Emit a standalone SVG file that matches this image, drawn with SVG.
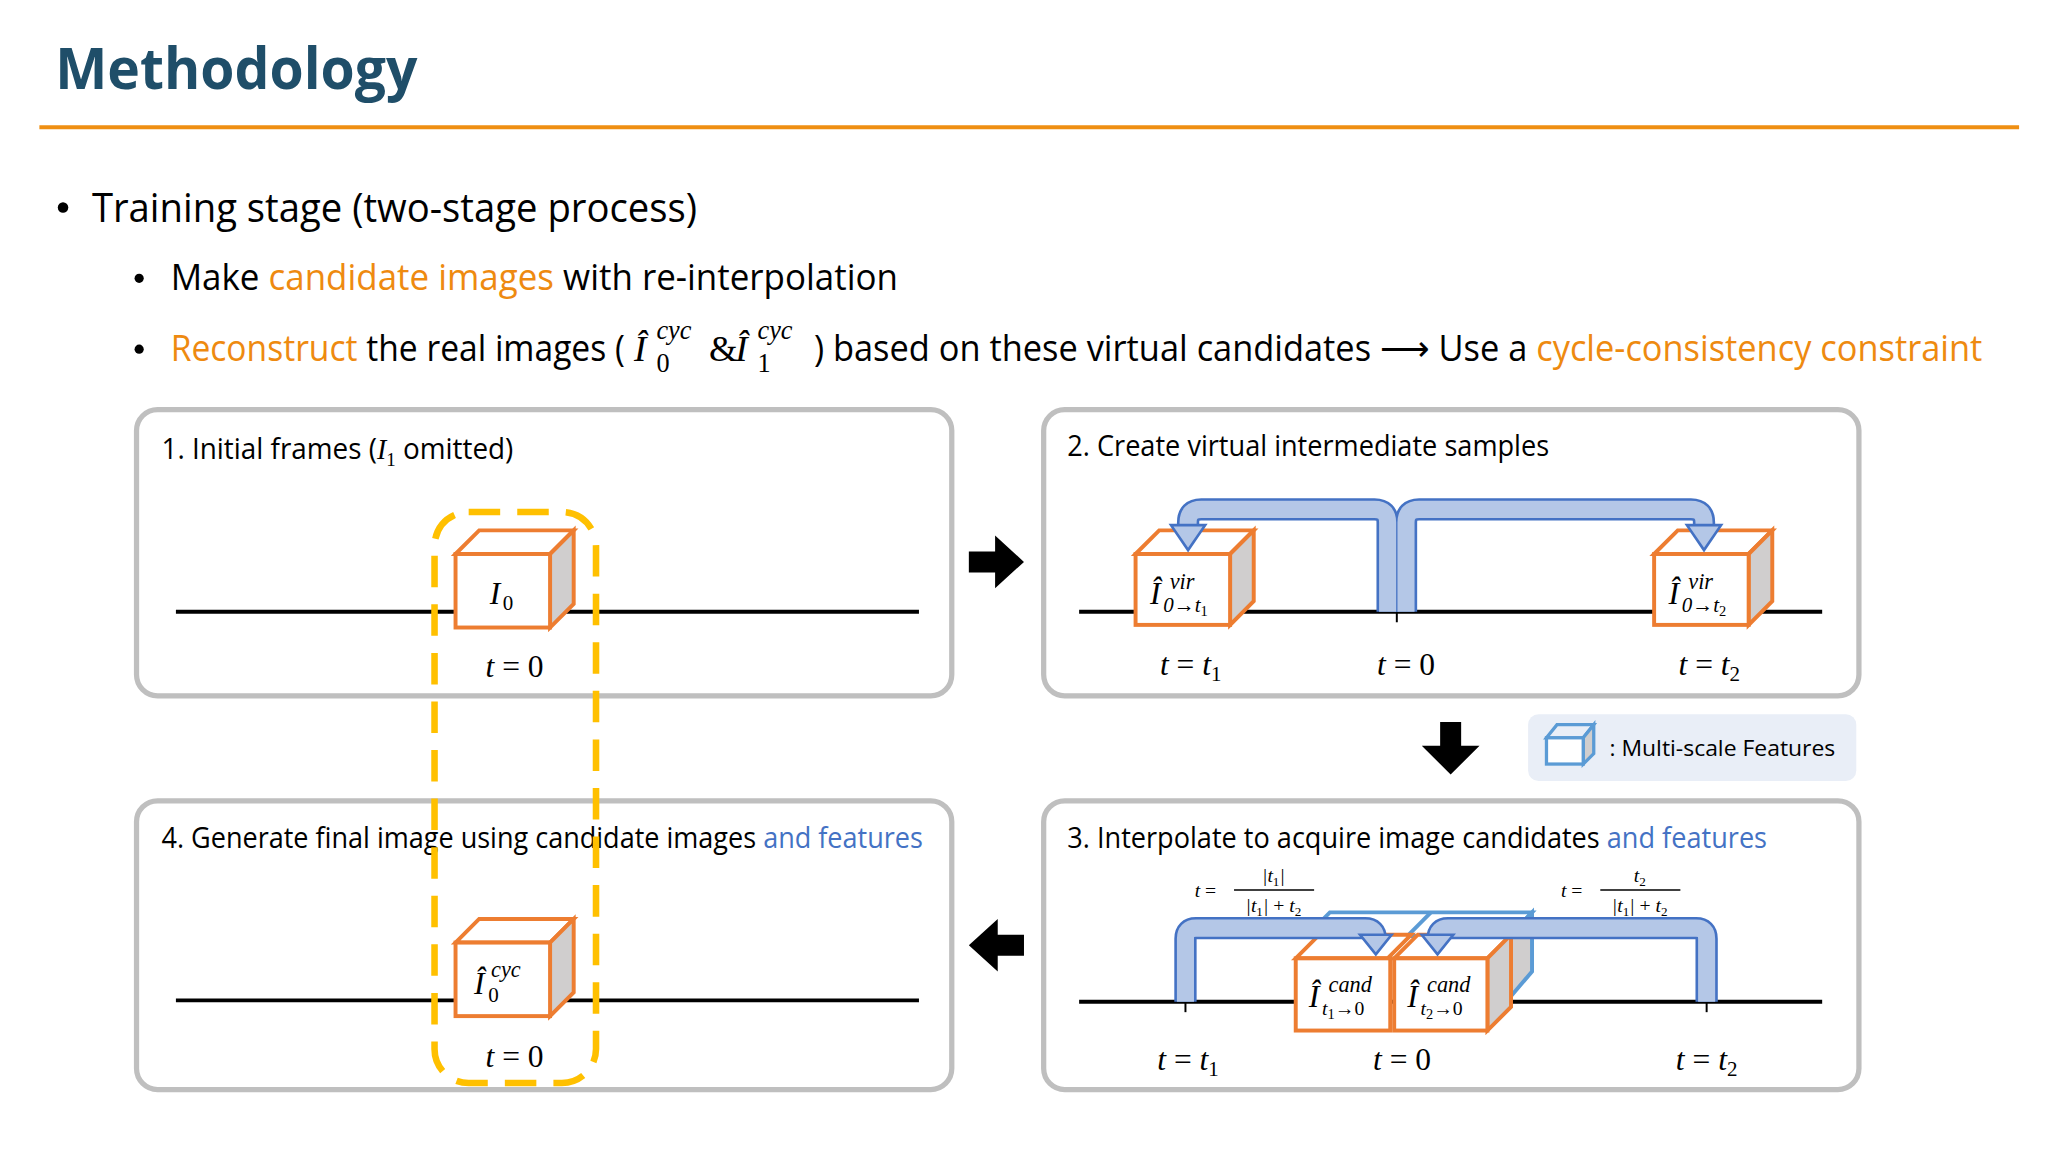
<svg xmlns="http://www.w3.org/2000/svg" width="2048" height="1152" viewBox="0 0 2048 1152">
<defs>
<style>
.t{font-family:"Open Sans","Noto Sans",sans-serif;fill:#000}
.m{font-family:"Liberation Serif",serif;font-style:italic;fill:#000}
.o{fill:#ee8a10}
.b{fill:#4472c4}
.panel{fill:#fff;stroke:#bfbfbf;stroke-width:4}
.front{fill:#fff;stroke:#ed7d31;stroke-width:3}
.side{fill:#d0cece;stroke:#ed7d31;stroke-width:3}
.topf{fill:#fff;stroke:#ed7d31;stroke-width:3}
.ao{fill:none;stroke:#4472c4;stroke-width:17}
.ai{fill:none;stroke:#b4c7e7;stroke-width:13}
.ah{fill:#b4c7e7;stroke:#4472c4;stroke-width:2}
.ax{stroke:#000;stroke-width:3}
</style>
</defs>
<rect width="2048" height="1152" fill="#fff"/>
<g transform="scale(1.3128)">
<g id="header">
<text x="42" y="68" class="t" font-size="44" font-weight="bold" fill="#1f4e69" style="fill:#1f4e69" textLength="276" lengthAdjust="spacingAndGlyphs">Methodology</text>
<line x1="30" y1="97" x2="1538" y2="97" stroke="#ef8f12" stroke-width="3"/>
<circle cx="48" cy="158" r="4"/>
<text x="70" y="169" class="t" font-size="30" textLength="461" lengthAdjust="spacingAndGlyphs">Training stage (two-stage process)</text>
<circle cx="106" cy="212" r="3.5"/>
<text x="130" y="221" class="t" font-size="28" textLength="554" lengthAdjust="spacingAndGlyphs">Make <tspan class="o">candidate images</tspan> with re-interpolation</text>
<circle cx="106" cy="266" r="3.5"/>
<text x="130" y="275" class="t" font-size="28" textLength="346" lengthAdjust="spacingAndGlyphs"><tspan class="o">Reconstruct</tspan> the real images (</text>
<text x="483" y="275" class="m" font-size="28">Î</text>
<text x="500" y="283" class="m" font-size="20" style="font-style:normal">0</text>
<text x="500" y="258" class="m" font-size="20">cyc</text>
<text x="540" y="275" class="m" font-size="28" style="font-style:normal">&amp;</text>
<text x="560" y="275" class="m" font-size="28">Î</text>
<text x="577" y="283" class="m" font-size="20" style="font-style:normal">1</text>
<text x="577" y="258" class="m" font-size="20">cyc</text>
<text x="620" y="275" class="t" font-size="28" textLength="890" lengthAdjust="spacingAndGlyphs">) based on these virtual candidates ⟶ Use a <tspan class="o">cycle-consistency constraint</tspan></text>
</g>
<g id="connectors">
<polygon points="738,420 758,420 758,408 780,428 758,448 758,436 738,436" fill="#000"/>
<polygon points="1097,550 1113,550 1113,568 1127,568 1105,590 1083,568 1097,568" fill="#000"/>
<polygon points="780,712 760,712 760,700 738,720 760,740 760,728 780,728" fill="#000"/>
</g>
<g id="panel1">
<rect x="104" y="312" width="621" height="218" rx="16" class="panel"/>
<text x="123" y="350" class="t" font-size="22" textLength="268" lengthAdjust="spacingAndGlyphs">1. Initial frames (<tspan class="m">I</tspan><tspan class="m" font-size="15" dy="5" style="font-style:normal">1</tspan><tspan dy="-5"> omitted)</tspan></text>
<line x1="134" y1="466" x2="700" y2="466" class="ax"/>
<polygon points="347,422 365,404 437,404 419,422" class="topf"/>
<polygon points="419,422 437,404 437,460 419,478" class="side"/>
<rect x="347" y="422" width="72" height="56" class="front"/>
<text x="373" y="460" class="m" font-size="24">I</text><text x="383" y="465" class="m" font-size="16" style="font-style:normal">0</text>
<text x="392" y="516" class="m" font-size="24" text-anchor="middle">t <tspan style="font-style:normal">= 0</tspan></text>
</g>
<g id="panel2">
<rect x="795" y="312" width="621" height="218" rx="16" class="panel"/>
<text x="813" y="347" class="t" font-size="22" textLength="367" lengthAdjust="spacingAndGlyphs">2. Create virtual intermediate samples</text>
<line x1="822" y1="466" x2="1388" y2="466" class="ax"/>
<line x1="1064" y1="466" x2="1064" y2="474" stroke="#000" stroke-width="1.5"/>
<polygon points="865,422 883,404 955,404 937,422" class="topf"/>
<polygon points="937,422 955,404 955,458 937,476" class="side"/>
<rect x="865" y="422" width="72" height="54" class="front"/>
<text x="876" y="460" class="m" font-size="24">Î</text><text x="891" y="449" class="m" font-size="17">vir</text><text x="886" y="466" class="m" font-size="16">0→t<tspan font-size="11" dy="3" style="font-style:normal">1</tspan></text>
<polygon points="1260,422 1278,404 1350,404 1332,422" class="topf"/>
<polygon points="1332,422 1350,404 1350,458 1332,476" class="side"/>
<rect x="1260" y="422" width="72" height="54" class="front"/>
<text x="1271" y="460" class="m" font-size="24">Î</text><text x="1286" y="449" class="m" font-size="17">vir</text><text x="1281" y="466" class="m" font-size="16">0→t<tspan font-size="11" dy="3" style="font-style:normal">2</tspan></text>
<path d="M1057,466 V398 Q1057,388 1047,388 H915 Q905,388 905,398 V402" class="ao"/>
<path d="M1071,466 V398 Q1071,388 1081,388 H1288 Q1298,388 1298,398 V402" class="ao"/>
<path d="M1057,466 V398 Q1057,388 1047,388 H915 Q905,388 905,398 V404" class="ai"/>
<path d="M1071,466 V398 Q1071,388 1081,388 H1288 Q1298,388 1298,398 V404" class="ai"/>
<polygon points="892,400 918,400 905,419" class="ah"/>
<polygon points="1285,400 1311,400 1298,419" class="ah"/>
<text x="907" y="514" class="m" font-size="24" text-anchor="middle">t <tspan style="font-style:normal">=</tspan> t<tspan font-size="16" dy="5" style="font-style:normal">1</tspan></text>
<text x="1071" y="514" class="m" font-size="24" text-anchor="middle">t <tspan style="font-style:normal">= 0</tspan></text>
<text x="1302" y="514" class="m" font-size="24" text-anchor="middle">t <tspan style="font-style:normal">=</tspan> t<tspan font-size="16" dy="5" style="font-style:normal">2</tspan></text>
</g>
<g id="legend">
<rect x="1164" y="544" width="250" height="51" rx="8" fill="#e9eef7"/>
<polygon points="1178,562 1186,552 1214,552 1206,562" fill="none" stroke="#5b9bd5" stroke-width="2.5"/>
<polygon points="1206,562 1214,552 1214,574 1206,582" fill="#d0cece" stroke="#5b9bd5" stroke-width="2.5"/>
<rect x="1178" y="562" width="28" height="20" fill="#fff" stroke="#5b9bd5" stroke-width="2.5"/>
<text x="1226" y="576" class="t" font-size="17" textLength="172" lengthAdjust="spacingAndGlyphs">: Multi-scale Features</text>
</g>
<g id="panel3">
<rect x="795" y="610" width="621" height="220" rx="16" class="panel"/>
<text x="813" y="646" class="t" font-size="22" textLength="533" lengthAdjust="spacingAndGlyphs">3. Interpolate to acquire image candidates <tspan class="b">and features</tspan></text>
<line x1="822" y1="763" x2="1388" y2="763" class="ax"/>
<line x1="903" y1="763" x2="903" y2="771" stroke="#000" stroke-width="1.5"/>
<line x1="1300" y1="763" x2="1300" y2="771" stroke="#000" stroke-width="1.5"/>
<polygon points="995,713 1013,695 1167,695 1150,713" fill="none" stroke="#5b9bd5" stroke-width="3"/>
<line x1="1090" y1="695" x2="1072" y2="713" stroke="#5b9bd5" stroke-width="3"/>
<polygon points="1150,713 1167,695 1167,740 1150,760" fill="#d0cece" stroke="#5b9bd5" stroke-width="3"/>
<polygon points="987,730 1005,712 1075,712 1057,730" class="topf"/>
<rect x="987" y="730" width="72" height="55" class="front"/>
<polygon points="1062,730 1080,712 1151,712 1133,730" class="topf"/>
<polygon points="1133,730 1151,712 1151,767 1133,785" class="side"/>
<rect x="1062" y="730" width="71" height="55" class="front"/>
<text x="997" y="767" class="m" font-size="24">Î</text><text x="1012" y="756" class="m" font-size="17">cand</text><text x="1007" y="773" class="m" font-size="15">t<tspan font-size="11" dy="3" style="font-style:normal">1</tspan><tspan dy="-3" style="font-style:normal">→0</tspan></text>
<text x="1072" y="767" class="m" font-size="24">Î</text><text x="1087" y="756" class="m" font-size="17">cand</text><text x="1082" y="773" class="m" font-size="15">t<tspan font-size="11" dy="3" style="font-style:normal">2</tspan><tspan dy="-3" style="font-style:normal">→0</tspan></text>
<path d="M903,763 V715 Q903,707 911,707 H1040 Q1048,707 1048,715 V714" class="ao"/>
<path d="M1300,763 V715 Q1300,707 1292,707 H1103 Q1095,707 1095,715 V714" class="ao"/>
<path d="M903,763 V715 Q903,707 911,707 H1040 Q1048,707 1048,715 V716" class="ai"/>
<path d="M1300,763 V715 Q1300,707 1292,707 H1103 Q1095,707 1095,715 V716" class="ai"/>
<polygon points="1036,712 1060,712 1048,727" class="ah"/>
<polygon points="1083,712 1107,712 1095,727" class="ah"/>
<text x="910" y="683" class="m" font-size="15">t <tspan style="font-style:normal">=</tspan></text>
<text x="970" y="672" class="m" font-size="15" text-anchor="middle">|t<tspan font-size="10" dy="3" style="font-style:normal">1</tspan><tspan dy="-3">|</tspan></text>
<line x1="940" y1="678" x2="1001" y2="678" stroke="#000" stroke-width="1.2"/>
<text x="970" y="695" class="m" font-size="15" text-anchor="middle">|t<tspan font-size="10" dy="3" style="font-style:normal">1</tspan><tspan dy="-3">| </tspan><tspan style="font-style:normal">+</tspan> t<tspan font-size="10" dy="3" style="font-style:normal">2</tspan></text>
<text x="1189" y="683" class="m" font-size="15">t <tspan style="font-style:normal">=</tspan></text>
<text x="1249" y="672" class="m" font-size="15" text-anchor="middle">t<tspan font-size="10" dy="3" style="font-style:normal">2</tspan></text>
<line x1="1219" y1="678" x2="1280" y2="678" stroke="#000" stroke-width="1.2"/>
<text x="1249" y="695" class="m" font-size="15" text-anchor="middle">|t<tspan font-size="10" dy="3" style="font-style:normal">1</tspan><tspan dy="-3">| </tspan><tspan style="font-style:normal">+</tspan> t<tspan font-size="10" dy="3" style="font-style:normal">2</tspan></text>
<text x="905" y="815" class="m" font-size="24" text-anchor="middle">t <tspan style="font-style:normal">=</tspan> t<tspan font-size="16" dy="5" style="font-style:normal">1</tspan></text>
<text x="1068" y="815" class="m" font-size="24" text-anchor="middle">t <tspan style="font-style:normal">= 0</tspan></text>
<text x="1300" y="815" class="m" font-size="24" text-anchor="middle">t <tspan style="font-style:normal">=</tspan> t<tspan font-size="16" dy="5" style="font-style:normal">2</tspan></text>
</g>
<g id="panel4">
<rect x="104" y="610" width="621" height="220" rx="16" class="panel"/>
<text x="123" y="646" class="t" font-size="22" textLength="580" lengthAdjust="spacingAndGlyphs">4. Generate final image using candidate images <tspan class="b">and features</tspan></text>
<line x1="134" y1="762" x2="700" y2="762" class="ax"/>
<polygon points="347,718 365,700 437,700 419,718" class="topf"/>
<polygon points="419,718 437,700 437,756 419,774" class="side"/>
<rect x="347" y="718" width="72" height="56" class="front"/>
<text x="361" y="757" class="m" font-size="24">Î</text><text x="374" y="744" class="m" font-size="17">cyc</text><text x="372" y="763" class="m" font-size="16" style="font-style:normal">0</text>
<text x="392" y="813" class="m" font-size="24" text-anchor="middle">t <tspan style="font-style:normal">= 0</tspan></text>
</g>
<g id="selection">
<rect x="331" y="390" width="123" height="435" rx="26" fill="none" stroke="#ffc000" stroke-width="5" stroke-dasharray="24 13"/>
</g>
</g>
</svg>
